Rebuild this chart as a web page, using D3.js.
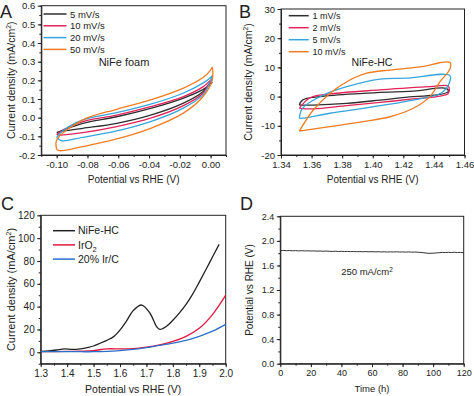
<!DOCTYPE html>
<html><head><meta charset="utf-8">
<script src="https://cdn.jsdelivr.net/npm/d3@7"></script>
<style>
body{margin:0;background:#fff}
text{font-family:"Liberation Sans",Arial,Helvetica,sans-serif;fill:#222}
</style>
</head><body>
<svg id="c" width="474" height="396"></svg>
<script>
// ---------------- Panel A data (NiFe foam CV) ----------------
const aNames = ["5 mV/s", "10 mV/s", "20 mV/s", "50 mV/s"];
const aPot5  = [-0.1,-0.096,-0.083,-0.061,-0.039,-0.018,-0.005,0.0,0.001,-0.002,-0.005,-0.018,-0.039,-0.061,-0.083,-0.098,-0.1];
const aCur5  = [-0.08,-0.066,-0.03,0.005,0.050,0.104,0.15,0.18,0.19,0.17,0.139,0.077,0.014,-0.03,-0.057,-0.075,-0.08];
const aPot10 = [-0.1,-0.096,-0.083,-0.061,-0.039,-0.018,-0.005,0.0,0.001,-0.002,-0.005,-0.018,-0.039,-0.061,-0.083,-0.098,-0.1];
const aCur10 = [-0.09,-0.068,-0.021,0.014,0.059,0.112,0.165,0.20,0.205,0.17,0.131,0.063,-0.003,-0.048,-0.08,-0.093,-0.09];
const aPot20 = [-0.1,-0.096,-0.083,-0.061,-0.039,-0.018,-0.005,0.0,0.001,-0.002,-0.005,-0.018,-0.039,-0.061,-0.083,-0.097,-0.1];
const aCur20 = [-0.105,-0.07,-0.012,0.027,0.072,0.131,0.185,0.215,0.225,0.16,0.122,0.05,-0.021,-0.071,-0.105,-0.123,-0.105];
const aPot50 = [-0.1,-0.1,-0.083,-0.061,-0.039,-0.018,-0.005,0.0,0.001,0.001,-0.005,-0.018,-0.039,-0.061,-0.083,-0.098,-0.1];
const aCur50 = [-0.17,-0.12,-0.012,0.045,0.095,0.157,0.215,0.255,0.27,0.20,0.112,0.023,-0.057,-0.114,-0.155,-0.177,-0.17];
const aXTicks = [-0.10,-0.08,-0.06,-0.04,-0.02,0.00];
const aYTicks = [-0.2,-0.1,0.0,0.1,0.2,0.3,0.4,0.5,0.6];

// ---------------- Panel B data (NiFe-HC CV) ----------------
const bNames = ["1 mV/s", "2 mV/s", "5 mV/s", "10 mV/s"];
const bPot1  = [1.352,1.354,1.3655,1.3938,1.4265,1.448,1.4494,1.4418,1.4265,1.4047,1.383,1.3611,1.352];
const bCur1  = [-2.9,-1.2,0.0,1.1,1.9,2.8,1.7,0.55,0.0,-1.2,-2.3,-2.9,-2.9];
const bPot2  = [1.352,1.359,1.372,1.4047,1.4374,1.4494,1.4494,1.4418,1.4265,1.4047,1.383,1.3611,1.352];
const bCur2  = [-4.0,-0.4,0.9,2.3,3.4,3.6,1.1,0.0,-0.8,-2.0,-3.1,-4.2,-4.0];
const bPot5  = [1.352,1.354,1.3677,1.383,1.4047,1.4222,1.4505,1.4495,1.446,1.4418,1.4265,1.4113,1.3938,1.372,1.354,1.352];
const bCur5  = [-7.4,-4.0,0.55,3.4,6.0,6.3,7.2,4.0,1.7,0.55,-1.2,-2.6,-4.0,-5.7,-7.4,-7.4];
const bPot10 = [1.352,1.3611,1.372,1.383,1.396,1.4113,1.431,1.4505,1.4505,1.444,1.4374,1.4265,1.4113,1.3938,1.372,1.352];
const bCur10 = [-11.8,-4.6,1.1,5.1,8.0,9.1,10.2,11.7,9.5,5.1,0.0,-4.0,-6.9,-8.6,-10.3,-11.8];
const bXTicks = [1.34,1.36,1.38,1.40,1.42,1.44,1.46];
const bYTicks = [-20,-10,0,10,20,30];

// ---------------- Panel C data (polarization) ----------------
const cNames = ["NiFe-HC", "IrO2", "20% Ir/C"];
const cPotHC = [1.3,1.33,1.36,1.39,1.42,1.45,1.48,1.5,1.525,1.55,1.575,1.6,1.625,1.65,1.682,1.7135,1.739,1.751,1.777,1.8,1.825,1.85,1.875,1.9,1.94,1.975];
const cCurHC = [0.7,1.2,2.0,3.0,2.5,3.0,4.3,5.5,7.9,10.5,13.5,19.5,27.5,36.5,41.4,34.2,22.4,20.1,23,28,34.5,42,51,61.5,79,94.5];
const cPotIr = [1.3,1.4,1.45,1.5,1.55,1.6,1.65,1.7,1.75,1.8,1.85,1.9,1.95,2.0];
const cCurIrO2 = [0.5,0.8,1.0,1.5,3.0,3.0,3.2,4.5,6.5,9.5,14,21,33,50];
const cCurIrC  = [0.5,0.5,0.5,0.5,0.8,1.5,2.5,4.0,6.0,8.0,10.5,14,18.5,24.5];
const cXTicks = [1.3,1.4,1.5,1.6,1.7,1.8,1.9,2.0];
const cYTicks = [0,20,40,60,80,100,120];

// ---------------- Panel D data (stability) ----------------
const dTime = [0,2,4,6,8,10,12,14,16,18,20,22,24,26,28,30,32,34,36,38,40,42,44,46,48,50,52,54,56,58,60,62,64,66,68,70,72,74,76,78,80,82,84,86,88,90,92,94,96,98,100,102,104,106,108,110,112,114,116,118,120];
const dPot  = [1.84,1.845,1.84,1.842,1.838,1.841,1.837,1.84,1.836,1.838,1.835,
               1.836,1.833,1.835,1.831,1.834,1.83,1.828,1.831,1.827,1.829,
               1.826,1.828,1.825,1.827,1.824,1.826,1.823,1.825,1.822,1.824,
               1.821,1.823,1.82,1.822,1.818,1.821,1.819,1.822,1.818,1.82,
               1.817,1.82,1.816,1.818,1.815,1.812,1.806,1.8,1.797,1.799,
               1.803,1.808,1.812,1.81,1.813,1.811,1.814,1.81,1.812,1.809];
const dXTicks = [0,20,40,60,80,100,120];
const dYTicks = [0.0,0.4,0.8,1.2,1.6,2.0,2.4];
const dNote = "250 mA/cm";

// ---------------- drawing ----------------
const svg = d3.select("#c");
const AX = "#222";

function panel(box, xDom, yDom, xTicks, yTicks, xMinor, yMinor, xFmt, yFmt, fs) {
  const g = svg.append("g");
  const x = d3.scaleLinear().domain(xDom).range([box.x0, box.x1]);
  const y = d3.scaleLinear().domain(yDom).range([box.y1, box.y0]);
  const style = sel => {
    sel.selectAll("path.domain").attr("stroke", AX).attr("stroke-width", 1);
    sel.selectAll(".tick line").attr("stroke", AX).attr("stroke-width", 1);
    sel.selectAll(".tick text").attr("fill", AX).style("font-size", fs + "px")
      .style("font-family", '"Liberation Sans",Arial,sans-serif');
  };
  g.append("g").attr("transform", `translate(0,${box.y1})`)
    .call(d3.axisBottom(x).tickValues(xMinor).tickFormat("").tickSize(2).tickSizeOuter(0))
    .call(s => { s.select("path.domain").remove(); style(s); });
  g.append("g").attr("transform", `translate(${box.x0},0)`)
    .call(d3.axisLeft(y).tickValues(yMinor).tickFormat("").tickSize(2).tickSizeOuter(0))
    .call(s => { s.select("path.domain").remove(); style(s); });
  g.append("g").attr("transform", `translate(0,${box.y1})`)
    .call(d3.axisBottom(x).tickValues(xTicks).tickFormat(xFmt).tickSize(3.5).tickSizeOuter(0).tickPadding(2.5))
    .call(style);
  g.append("g").attr("transform", `translate(${box.x0},0)`)
    .call(d3.axisLeft(y).tickValues(yTicks).tickFormat(yFmt).tickSize(3.5).tickSizeOuter(0).tickPadding(2.5))
    .call(style);
  g.append("rect").attr("x", box.x0).attr("y", box.y0)
    .attr("width", box.x1 - box.x0).attr("height", box.y1 - box.y0)
    .attr("fill", "none").attr("stroke", AX).attr("stroke-width", 1);
  return {g, x, y};
}

function curve(p, xs, ys, color, w, smooth) {
  const pts = xs.map((v, i) => [v, ys[i]]);
  const line = d3.line().x(d => p.x(d[0])).y(d => p.y(d[1]))
    .curve(smooth ? d3.curveCatmullRom.alpha(0.5) : d3.curveLinear);
  p.g.append("path").datum(pts).attr("d", line)
    .attr("fill", "none").attr("stroke", color).attr("stroke-width", w)
    .attr("stroke-linejoin", "round");
}

function text(x, y, s, size, anchor, extra) {
  const t = svg.append("text").attr("x", x).attr("y", y).text(s)
    .style("font-size", size + "px").attr("text-anchor", anchor || "start");
  if (extra) extra(t);
  return t;
}

function yTitle(cx, cy, main, supTxt, tail, size) {
  const t = svg.append("text").attr("transform", `translate(${cx},${cy}) rotate(-90)`)
    .attr("text-anchor", "middle").style("font-size", size + "px");
  t.append("tspan").text(main);
  if (supTxt) {
    t.append("tspan").text(supTxt).attr("dy", -4).style("font-size", (size * 0.65) + "px");
    t.append("tspan").text(tail).attr("dy", 4);
  }
}

const colBlack = "#2e2e2e", colRed = "#e3235a", colBlue = "#35a6dd", colOrange = "#f07c22";
const rng = (a, b, s) => d3.range(Math.round((b - a) / s) + 1).map(i => +(a + i * s).toFixed(4));

// Panel A
const pA = panel({x0: 41.3, x1: 226, y0: 5.7, y1: 155}, [-0.11, 0.01], [-0.2, 0.6],
  aXTicks, aYTicks, rng(-0.11, 0.01, 0.01), rng(-0.2, 0.6, 0.05),
  d => d.toFixed(2), d => d.toFixed(1), 9.5);
const aSeries = [[aPot5, aCur5, colBlack], [aPot10, aCur10, colRed], [aPot20, aCur20, colBlue], [aPot50, aCur50, colOrange]];
aSeries.forEach(s => curve(pA, s[0], s[1], s[2], 1.3, true));
aNames.forEach((n, i) => {
  const yy = 14 + i * 11.8;
  svg.append("line").attr("x1", 43.5).attr("x2", 66.5).attr("y1", yy).attr("y2", yy)
    .attr("stroke", aSeries[i][2]).attr("stroke-width", 1.5);
  text(70, yy + 3.5, n, 9.5);
});
text(124, 66, "NiFe foam", 11, "middle");

// Panel B
const pB = panel({x0: 281, x1: 464.5, y0: 9, y1: 155}, [1.34, 1.46], [-20, 30],
  bXTicks, bYTicks, rng(1.34, 1.46, 0.01), rng(-20, 30, 5),
  d => d.toFixed(2), d => d3.format("d")(d).replace("−", "-"), 9.5);
const bSeries = [[bPot1, bCur1, colBlack], [bPot2, bCur2, colRed], [bPot5, bCur5, colBlue], [bPot10, bCur10, colOrange]];
bSeries.forEach(s => curve(pB, s[0], s[1], s[2], 1.3, true));
bNames.forEach((n, i) => {
  const yy = 15.7 + i * 12;
  svg.append("line").attr("x1", 288.7).attr("x2", 308.7).attr("y1", yy).attr("y2", yy)
    .attr("stroke", bSeries[i][2]).attr("stroke-width", 1.5);
  text(312.5, yy + 3.3, n, 9);
});
text(372, 65.5, "NiFe-HC", 10.5, "middle");

// Panel C
const pC = panel({x0: 40.7, x1: 225.7, y0: 215.3, y1: 363.7}, [1.3, 2.0], [-10, 120],
  cXTicks, cYTicks, rng(1.3, 2.0, 0.05), rng(-10, 120, 10),
  d => d.toFixed(1), d => String(d), 10);
const cSeries = [[cPotHC, cCurHC, "#222222"], [cPotIr, cCurIrO2, "#e5173f"], [cPotIr, cCurIrC, "#2c6fca"]];
cSeries.forEach(s => curve(pC, s[0], s[1], s[2], 1.3, true));
cNames.forEach((n, i) => {
  const yy = 230.7 + i * 14.2;
  svg.append("line").attr("x1", 53).attr("x2", 75).attr("y1", yy).attr("y2", yy)
    .attr("stroke", cSeries[i][2]).attr("stroke-width", 1.5);
  if (n === "IrO2") {
    const t = text(78, yy + 3.7, "", 10.5);
    t.append("tspan").text("IrO");
    t.append("tspan").text("2").attr("dy", 3).style("font-size", "7.5px");
  } else {
    text(78, yy + 3.7, n, 10.5);
  }
});

// Panel D
const pD = panel({x0: 280.3, x1: 463.7, y0: 216.3, y1: 363.7}, [0, 120], [0, 2.4],
  dXTicks, dYTicks, rng(0, 120, 10), rng(0, 2.4, 0.2),
  d => String(d), d => d.toFixed(1), 9);
curve(pD, dTime, dPot, "#333", 1, false);
{
  const t = text(367, 275, "", 9.5, "middle");
  t.append("tspan").text(dNote);
  t.append("tspan").text("2").attr("dy", -3.5).style("font-size", "6.5px");
}

// Axis titles
text(133.7, 183, "Potential vs RHE (V)", 10, "middle");
text(372.7, 183, "Potential vs RHE (V)", 10, "middle");
text(133.2, 393, "Potential vs RHE (V)", 10.5, "middle");
text(372, 392, "Time (h)", 9.5, "middle");
yTitle(14.5, 80.3, "Current density (mA/cm", "2", ")", 10.5);
yTitle(252, 82, "Current density (mA/cm", "2", ")", 10.5);
yTitle(14.5, 289.5, "Current density (mA/cm", "2", ")", 11);
yTitle(252.5, 290, "Potential vs RHE (V)", null, null, 10);

// Panel letters
text(0, 18, "A", 18);
text(239, 18, "B", 18);
text(1, 210, "C", 18);
text(240, 210, "D", 18);
</script>
</body></html>
